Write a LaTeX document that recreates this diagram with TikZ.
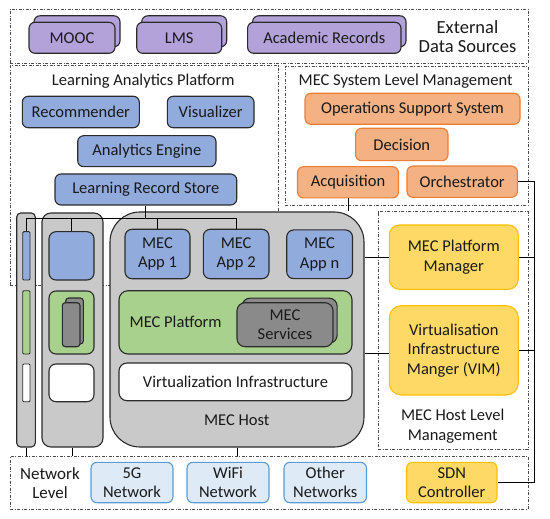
\documentclass[tikz,border=0pt]{standalone}
\usepackage{fontspec}
\setmainfont{Carlito}
\definecolor{purp}{HTML}{B3A2D9}
\definecolor{blu}{HTML}{91ABDD}
\definecolor{orf}{HTML}{F4B183}
\definecolor{ord}{HTML}{ED7D31}
\definecolor{yef}{HTML}{FFD966}
\definecolor{yed}{HTML}{FFC000}
\definecolor{ltb}{HTML}{DEEBF7}
\definecolor{ltbd}{HTML}{5B9BD5}
\definecolor{grn}{HTML}{A9D18E}
\definecolor{hostg}{HTML}{C9C9C9}
\definecolor{svcg}{HTML}{8A8A8A}
\definecolor{edge}{HTML}{2B2B2B}
\definecolor{txt}{HTML}{1A1A1A}
\tikzset{
  bx/.style={draw=edge, line width=1.1pt, rounded corners=6pt, inner sep=0pt, align=center,
    text=txt, font=\fontsize{16.5}{19.5}\selectfont},
  grp/.style={draw=edge!85, line width=0.8pt, dash pattern=on 3pt off 1.5pt on 1pt off 1.5pt,
    inner sep=0pt},
  lbl/.style={inner sep=0pt, align=center, text=txt, font=\fontsize{16.5}{19.5}\selectfont},
  wire/.style={draw=black, line width=0.9pt},
}
\begin{document}
\begin{tikzpicture}[x=1pt,y=-1pt]
\useasboundingbox (0,0) rectangle (550,519);
% group frames
\node[grp, minimum width=518, minimum height=54] (ext) at (269,36) {};
\node[grp, minimum width=268.3, minimum height=220] (lap) at (144.15,175.7) {};
\node[grp, minimum width=243, minimum height=138.8] (msys) at (406.5,136.1) {};
\node[grp, minimum width=150, minimum height=237.3] (mhl) at (453,330.35) {};
\node[grp, minimum width=518, minimum height=52.8] (net) at (269,482.9) {};
% external sources
\node[bx, fill=purp, minimum width=86, minimum height=31] (moocb) at (77,31.3) {};
\node[bx, fill=purp, minimum width=86, minimum height=31] (mooc) at (72,37.8) {MOOC};
\node[bx, fill=purp, minimum width=85, minimum height=31] (lmsb) at (184.2,31.3) {};
\node[bx, fill=purp, minimum width=85, minimum height=31] (lms) at (179.2,37.8) {LMS};
\node[bx, fill=purp, minimum width=153.4, minimum height=31] (arb) at (329.3,31.3) {};
\node[bx, fill=purp, minimum width=153.4, minimum height=31] (ar) at (324.3,37.8) {Academic Records};
\node[lbl, font=\fontsize{18.5}{19.5}\selectfont] (extt) at (467.5,36.5) {External\\Data Sources};
% learning analytics platform
\node[lbl] (lapt) at (143.3,81) {Learning Analytics Platform};
\node[bx, fill=blu, minimum width=117, minimum height=31.5] (rec) at (80.8,112) {Recommender};
\node[bx, fill=blu, minimum width=86.7, minimum height=31.5] (vis) at (210.65,112) {Visualizer};
\node[bx, fill=blu, minimum width=138.3, minimum height=31] (ae) at (146.85,151.2) {Analytics Engine};
\node[bx, fill=blu, minimum width=181.7, minimum height=31] (lrs) at (145.85,189.5) {Learning Record Store};
% MEC system level management
\node[lbl] (msyst) at (405.6,81) {MEC System Level Management};
\node[bx, fill=orf, draw=ord, minimum width=215, minimum height=31] (oss) at (412.5,108.8) {Operations Support System};
\node[bx, fill=orf, draw=ord, minimum width=92.4, minimum height=32.4] (dec) at (401.8,144.5) {Decision};
\node[bx, fill=orf, draw=ord, minimum width=101, minimum height=31.3] (acq) at (348,182.3) {Acquisition};
\node[bx, fill=orf, draw=ord, minimum width=110.5, minimum height=31.3] (orch) at (462.2,181.7) {Orchestrator};
% side panels
\node[bx, fill=hostg, rounded corners=4pt, minimum width=18.6, minimum height=234] (thin) at (26,330) {};
\node[bx, fill=blu, rounded corners=1pt, line width=0.9pt, minimum width=7.3, minimum height=48.3] (thinb) at (26.35,255.85) {};
\node[bx, fill=grn, rounded corners=1pt, line width=0.9pt, minimum width=7.3, minimum height=63.3] (thing) at (26.35,322.35) {};
\node[bx, fill=white, rounded corners=1pt, line width=0.9pt, minimum width=7.3, minimum height=37.7] (thinw) at (26.35,382.85) {};
\node[bx, fill=hostg, rounded corners=9pt, minimum width=61, minimum height=234] (pan) at (72.5,330) {};
\node[bx, fill=blu, rounded corners=7pt, minimum width=45, minimum height=48.3] (panb) at (71.5,255.85) {};
\node[bx, fill=grn, rounded corners=7pt, minimum width=45, minimum height=63] (pang) at (71.5,322.5) {};
\node[bx, fill=svcg, rounded corners=3pt, minimum width=17.6, minimum height=46] (pansb) at (74.5,321) {};
\node[bx, fill=svcg, rounded corners=3pt, minimum width=17.7, minimum height=44] (pans) at (71.15,324.7) {};
\node[bx, fill=white, rounded corners=7pt, minimum width=45, minimum height=37.7] (panw) at (71.5,382.85) {};
% MEC host
\node[bx, fill=hostg, rounded corners=30pt, minimum width=254, minimum height=235] (host) at (237,329.5) {};
\node[bx, fill=blu, rounded corners=7pt, minimum width=65, minimum height=49.4] (app1) at (157.5,254) {MEC\\App 1};
\node[bx, fill=blu, rounded corners=7pt, minimum width=65.7, minimum height=49.4] (app2) at (236.15,254) {MEC\\App 2};
\node[bx, fill=blu, rounded corners=7pt, minimum width=65.8, minimum height=48.7] (appn) at (319.6,254.3) {MEC\\App n};
\node[bx, fill=grn, rounded corners=9pt, minimum width=233, minimum height=63.3] (plat) at (235.5,322.35) {};
\node[lbl] (platt) at (175.7,322) {MEC Platform};
\node[bx, fill=svcg, rounded corners=8pt, minimum width=95, minimum height=45] (svcb) at (289.65,320.65) {};
\node[bx, fill=svcg, rounded corners=8pt, minimum width=96, minimum height=44] (svc) at (285,324.7) {MEC\\Services};
\node[bx, fill=white, rounded corners=8pt, minimum width=233, minimum height=37.7] (virt) at (235.5,381.85) {Virtualization Infrastructure};
\node[lbl] (hostt) at (236.7,420.7) {MEC Host};
% MEC host level management
\node[bx, fill=yef, draw=yed, rounded corners=10pt, minimum width=129, minimum height=64.3] (pm) at (453.8,257.15) {MEC Platform\\Manager};
\node[bx, fill=yef, draw=yed, rounded corners=12pt, minimum width=129, minimum height=89.3] (vim) at (453.8,350.35) {Virtualisation\\Infrastructure\\Manger (VIM)};
\node[lbl] (mhlt) at (452.7,426) {MEC Host Level\\Management};
% network level
\node[lbl, font=\fontsize{17}{19.5}\selectfont] (nett) at (50,483) {Network\\Level};
\node[bx, fill=ltb, draw=ltbd, rounded corners=6pt, minimum width=82, minimum height=40.4] (g5) at (132,482.5) {5G\\Network};
\node[bx, fill=ltb, draw=ltbd, rounded corners=6pt, minimum width=82, minimum height=40.4] (wifi) at (228,482.5) {WiFi\\Network};
\node[bx, fill=ltb, draw=ltbd, rounded corners=6pt, minimum width=82.5, minimum height=40.4] (oth) at (325.25,482.5) {Other\\Networks};
\node[bx, fill=yef, draw=yed, rounded corners=6pt, minimum width=90.5, minimum height=40.4] (sdn) at (451.75,482.5) {SDN\\Controller};
% connectors
\coordinate (bus) at (0,218.3);
\coordinate (rail) at (534.5,0);
\coordinate (vimline) at (0,353.5);
\draw[wire] (lrs.south) -- (lrs.south |- bus);
\draw[wire] (thinb.north |- bus) -- (app2.north |- bus);
\draw[wire] (thinb.north |- bus) -- (thinb.north);
\draw[wire] (panb.north |- bus) -- (panb.north);
\draw[wire] (app1.north |- bus) -- (app1.north);
\draw[wire] (app2.north |- bus) -- (app2.north);
\draw[wire] (acq.south) -- (acq.south |- host.north);
\draw[wire] (orch.east) -- (orch.east -| rail) -- (sdn.east -| rail) -- (sdn.east);
\draw[wire] (host.east |- pm.west) -- (pm.west);
\draw[wire] (pm.east) -- (pm.east -| rail);
\draw[wire] (host.east |- vimline) -- (vim.west |- vimline);
\draw[wire] (vim.east) -- (vim.east -| rail);
\draw[wire] (thin.south) -- (thin.south |- net.north);
\draw[wire] (pan.south) -- (pan.south |- net.north);
\draw[wire] (host.south) -- (host.south |- net.north);
\end{tikzpicture}
\end{document}
